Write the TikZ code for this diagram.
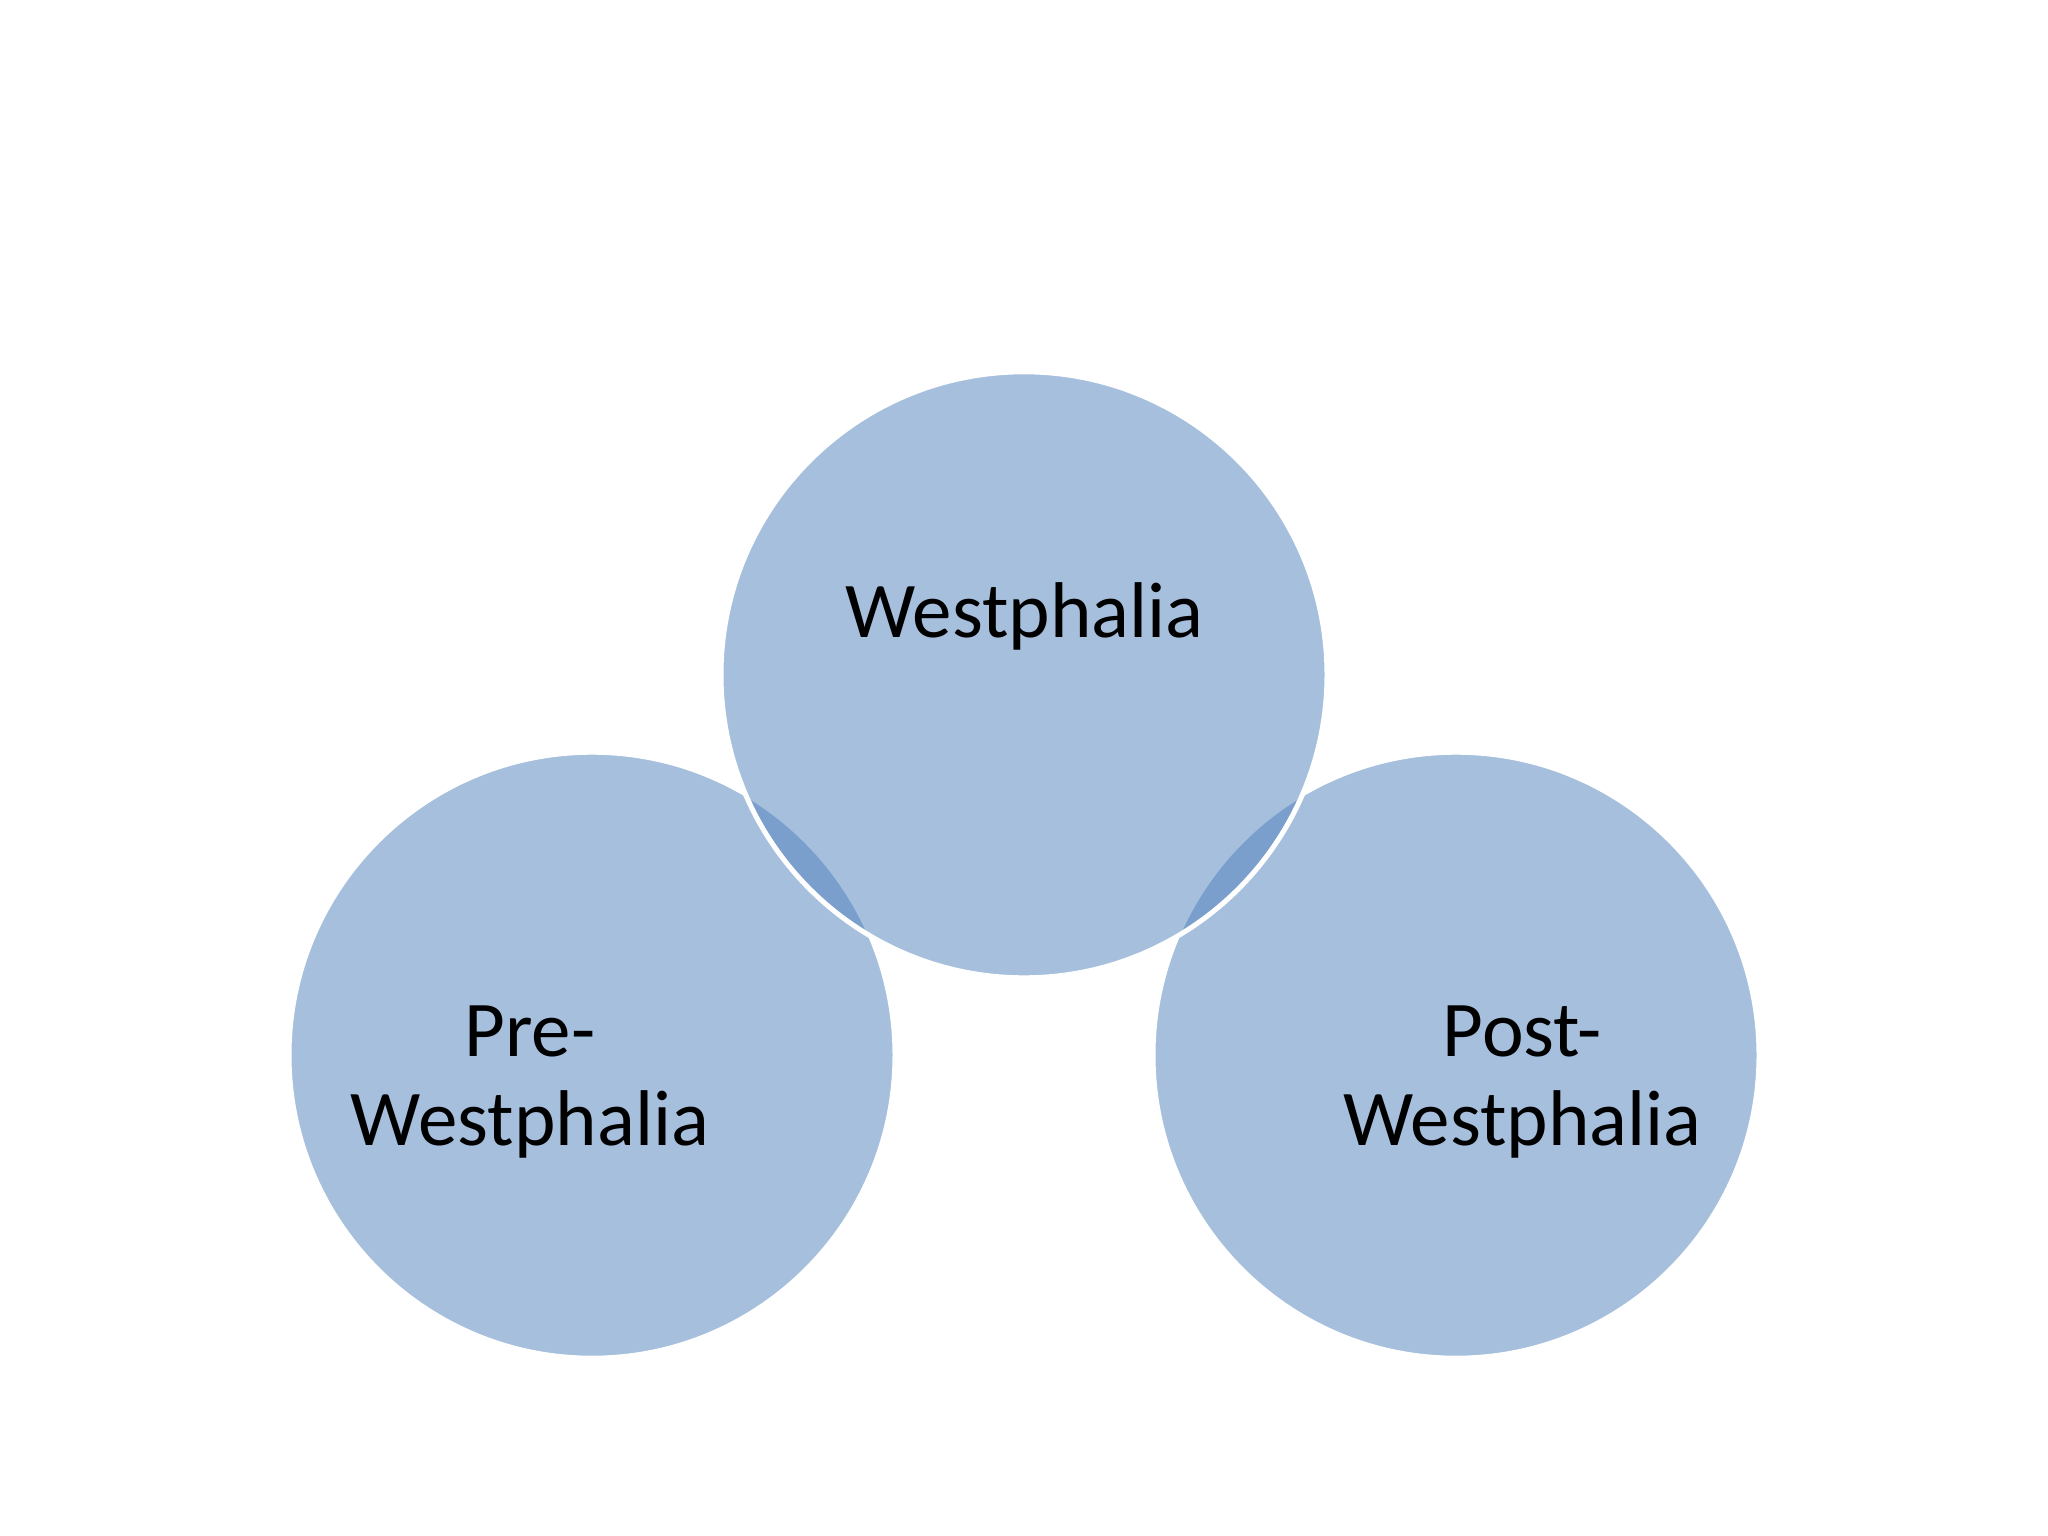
\documentclass[tikz,border=0pt]{standalone}
\usepackage{fontspec}
\setmainfont{Carlito}
\definecolor{accentblue}{HTML}{4F81BD}
\tikzset{
  venncircle/.style={circle, minimum size=606pt, inner sep=0pt, fill=accentblue, fill opacity=0.5, draw=white, draw opacity=1, line width=5pt},
  vennlabel/.style={text=black, align=center, inner sep=0pt, font=\fontsize{79}{89}\selectfont}
}
\begin{document}
\begin{tikzpicture}[x=1pt,y=-1pt]
\useasboundingbox (0,0) rectangle (2048,1536);
\fill[white] (0,0) rectangle (2048,1536);
\node[venncircle] (left) at (592,1055.2) {};
\node[venncircle] (right) at (1456,1055.2) {};
\node[venncircle] (top) at (1024,674.8) {};
\node[vennlabel] (ltext) at (530,1082) {Pre-\\Westphalia};
\node[vennlabel] (rtext) at (1522.5,1082) {Post-\\Westphalia};
\node[vennlabel] (ttext) at (1024.5,616) {Westphalia};
\end{tikzpicture}
\end{document}
